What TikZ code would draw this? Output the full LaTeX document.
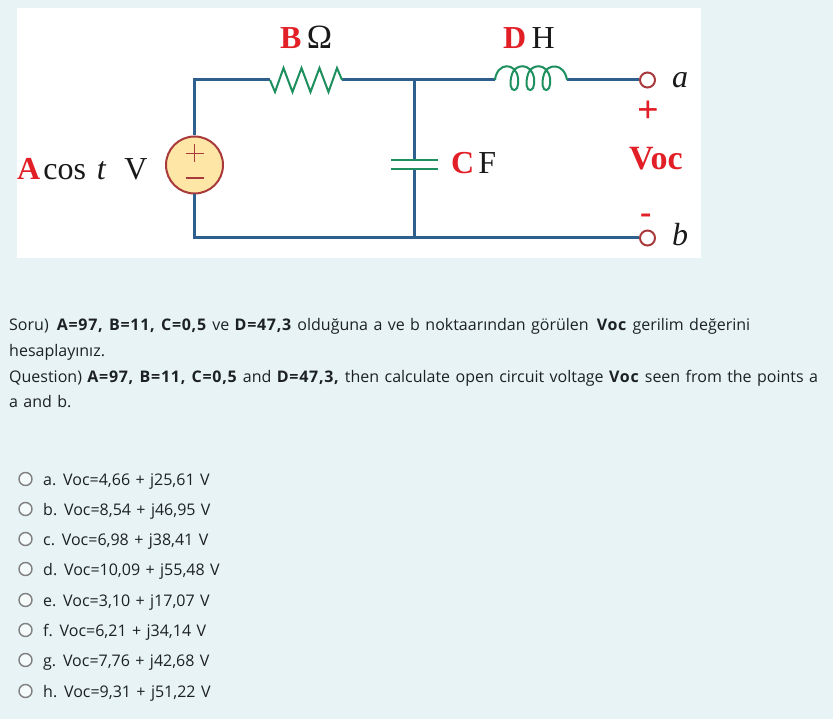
\documentclass[tikz,border=0pt]{standalone}
\usepackage{fontspec}
\setmainfont[WordSpace=1.3, BoldFeatures={LetterSpace=4.5}]{Open Sans}
\newfontfamily\circuitfont{Liberation Serif}

\definecolor{pagebg}{HTML}{E7F3F5}
\definecolor{wireblue}{HTML}{2F5F8C}
\definecolor{partgreen}{HTML}{1E8F5E}
\definecolor{labelred}{HTML}{E21F26}
\definecolor{ringred}{HTML}{A83A3C}
\definecolor{sourcefill}{HTML}{FDE6A6}
\definecolor{bodytext}{HTML}{1D2125}

\tikzset{
	wire/.style={line width=3pt, wireblue},
	part/.style={line width=2pt, partgreen},
	terminal/.style={circle, draw=ringred, line width=2pt, fill=white, inner sep=0pt, minimum size=15pt},
	circuitlabel/.style={inner sep=0pt, anchor=base west, font=\circuitfont\fontsize{32}{36}\selectfont, text=black!90},
	redlabel/.style={circuitlabel, text=labelred, font=\circuitfont\bfseries\fontsize{34}{36}\selectfont},
	bodyline/.style={inner sep=0pt, anchor=base west, text=bodytext, font=\fontsize{16}{18}\selectfont},
	radio/.style={circle, draw=black!50, line width=1.4pt, fill=white!60!pagebg, inner sep=0pt, minimum size=13pt},
}

\begin{document}
\begin{tikzpicture}[x=1pt, y=-1pt]

	\fill[pagebg] (0, 0) rectangle (833, 719);
	\fill[white] (17, 8) rectangle (701, 258);
	\useasboundingbox (0, 0) rectangle (833, 719);

	% corners and junctions
	\coordinate (topleft) at (194.5, 80);
	\coordinate (botleft) at (194.5, 238);
	\coordinate (jtop) at (414, 80);
	\coordinate (jbot) at (414, 238);
	\coordinate (resin) at (270, 80);
	\coordinate (resout) at (342, 80);
	\coordinate (indin) at (495, 80);
	\coordinate (indout) at (567, 80);
	\coordinate (capup) at (414, 160);
	\coordinate (capdown) at (414, 169);

	\node[circle, draw=ringred, line width=2pt, fill=sourcefill, inner sep=0pt, minimum size=57pt] (source) at (194.5, 165) {};
	\node[terminal] (terma) at (647.5, 80) {};
	\node[terminal] (termb) at (647.5, 238) {};

	\draw[wire] (source) -- (topleft) -- (resin);
	\draw[wire] (resout) -- (indin);
	\draw[wire] (indout) -- (terma);
	\draw[wire] (source) -- (botleft) -- (termb);
	\draw[wire] (jtop) -- (capup);
	\draw[wire] (capdown) -- (jbot);

	% resistor
	\draw[part, line join=miter] (resin) -- ++(5, 12) -- ++(8.5, -24) -- ++(9, 24) -- ++(9, -24) -- ++(9, 24) -- ++(9, -24) -- ++(9, 24) -- ++(8.5, -24) -- (resout);

	% inductor
	\draw[part] (indin) .. controls (497, 62) and (516, 62) .. (518, 78) .. controls (519, 88) and (516, 90) .. (514, 90) .. controls (511, 90) and (509, 84) .. (512, 74)
		.. controls (515, 64) and (531, 62) .. (534, 78) .. controls (535, 88) and (532, 90) .. (530, 90) .. controls (527, 90) and (525, 84) .. (528, 74)
		.. controls (531, 64) and (547, 62) .. (550, 78) .. controls (551, 88) and (548, 90) .. (546, 90) .. controls (543, 90) and (541, 84) .. (544, 74)
		.. controls (547, 64) and (564, 62) .. (indout);

	% capacitor
	\draw[part, line width=2.6pt] (391, 160) -- (438, 160);
	\draw[part, line width=2.6pt] (391, 169) -- (438, 169);

	% source polarity
	\draw[ringred, line width=1.1pt] (185.5, 153.5) -- (203.5, 153.5);
	\draw[ringred, line width=1.1pt] (194.5, 144) -- (194.5, 162);
	\draw[ringred, line width=1.1pt] (185.5, 178) -- (203.5, 178);

	\node[circuitlabel] (lblsource) at (17, 180) {\textcolor{labelred}{\bfseries A}\hspace{3pt}cos\hspace{11pt}\textit{t}\hspace{18pt}V};
	\node[circuitlabel] (lblres) at (280, 49) {\textcolor{labelred}{\bfseries B}\,\fontsize{34}{36}\selectfont Ω};
	\node[circuitlabel] (lblind) at (503, 49) {\textcolor{labelred}{\bfseries D}\,H};
	\node[circuitlabel] (lblcap) at (451, 174) {\textcolor{labelred}{\bfseries C}\hspace{4pt}F};
	\node[circuitlabel] (lbla) at (672, 88) {\textit{a}};
	\node[circuitlabel] (lblb) at (672, 246) {\textit{b}};
	\node[redlabel] (lblplus) at (637, 123) {\fontsize{38}{40}\selectfont +};
	\node[redlabel] (lblvoc) at (629, 170) {Voc};
	\node[redlabel] (lblminus) at (640, 224) {-};

	% question
	\node[bodyline] (soru) at (9, 331) {Soru)\, \textbf{A=97, B=11, C=0,5} ve \textbf{D=47,3} olduğuna a ve b noktaarından görülen\, \textbf{Voc} gerilim değerini};
	\node[bodyline] (soru2) at (9, 356) {hesaplayınız.};
	\node[bodyline] (quest) at (9, 382) {Question) \textbf{A=97, B=11, C=0,5} and \textbf{D=47,3,} then calculate open circuit voltage \textbf{Voc} seen from the points a};
	\node[bodyline] (quest2) at (9, 407) {a and b.};

	% answers
	\foreach \i/\ypos/\answer in {a/479/{a. Voc=4,66 + j25,61 V}, b/509/{b. Voc=8,54 + j46,95 V}, c/539/{c. Voc=6,98 + j38,41 V}, d/569/{d. Voc=10,09 + j55,48 V}, e/600/{e. Voc=3,10 + j17,07 V}, f/630/{f. Voc=6,21 + j34,14 V}, g/660/{g. Voc=7,76 + j42,68 V}, h/691/{h. Voc=9,31 + j51,22 V}} {
		\node[radio] (radio\i) at (25.5, \ypos) {};
		\node[bodyline] (answer\i) at (43, \ypos+6) {\answer};
	}

\end{tikzpicture}
\end{document}
